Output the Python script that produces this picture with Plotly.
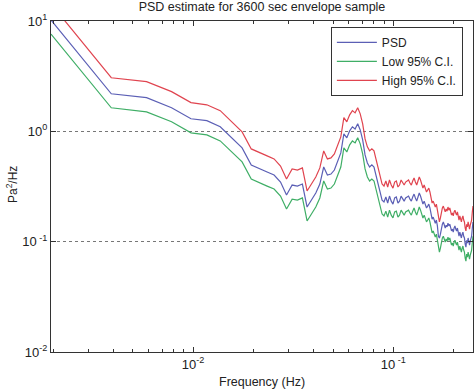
import numpy as np
import plotly.graph_objects as go

# frequency bins (Hz): k/512, k = 1..128
freq = np.arange(1, 129) / 512.0

psd = [10.2, 2.19, 2.02, 1.635, 1.30, 1.25, 1.10, 0.873, 0.708, 0.496,
       0.456, 0.428, 0.402, 0.347, 0.265, 0.326, 0.319, 0.333, 0.206, 0.238,
       0.276, 0.333, 0.475, 0.402, 0.410, 0.446, 0.539, 0.637, 0.949, 0.873,
       1.01, 1.10, 1.05, 1.17, 1.03, 0.837, 0.611, 0.517, 0.475, 0.496,
       0.475, 0.402, 0.326, 0.276, 0.238, 0.229, 0.254, 0.224, 0.259, 0.233,
       0.219, 0.249, 0.254, 0.224, 0.233, 0.259, 0.243, 0.233, 0.249, 0.254,
       0.259, 0.243, 0.233, 0.254, 0.270, 0.249, 0.233, 0.254, 0.276, 0.259,
       0.233, 0.219, 0.233, 0.215, 0.202, 0.210, 0.219, 0.202, 0.178, 0.160,
       0.167, 0.154, 0.147, 0.157, 0.139, 0.112, 0.108, 0.117, 0.133, 0.144,
       0.151, 0.141, 0.133, 0.141, 0.136, 0.147, 0.139, 0.144, 0.136, 0.125,
       0.130, 0.122, 0.133, 0.139, 0.130, 0.125, 0.133, 0.120, 0.112, 0.122,
       0.115, 0.108, 0.117, 0.122, 0.112, 0.108, 0.0951, 0.0893, 0.103, 0.0971,
       0.108, 0.0992, 0.0931, 0.101, 0.108, 0.112, 0.133, 0.151]

low_ci = [7.62, 1.635, 1.50, 1.22, 0.969, 0.929, 0.819, 0.651, 0.528, 0.370,
          0.340, 0.319, 0.300, 0.259, 0.198, 0.243, 0.238, 0.249, 0.154, 0.178,
          0.206, 0.249, 0.355, 0.300, 0.306, 0.333, 0.402, 0.475, 0.708, 0.651,
          0.754, 0.819, 0.786, 0.873, 0.770, 0.624, 0.456, 0.386, 0.355, 0.370,
          0.355, 0.300, 0.243, 0.206, 0.178, 0.171, 0.189, 0.167, 0.193, 0.174,
          0.164, 0.186, 0.189, 0.167, 0.174, 0.193, 0.182, 0.174, 0.186, 0.189,
          0.193, 0.182, 0.174, 0.189, 0.202, 0.186, 0.174, 0.189, 0.206, 0.193,
          0.174, 0.164, 0.174, 0.160, 0.151, 0.157, 0.164, 0.151, 0.133, 0.120,
          0.125, 0.115, 0.110, 0.117, 0.103, 0.0839, 0.0804, 0.0875, 0.0992, 0.108,
          0.112, 0.106, 0.0992, 0.106, 0.101, 0.110, 0.103, 0.108, 0.101, 0.0931,
          0.0971, 0.0912, 0.0992, 0.103, 0.0971, 0.0931, 0.0992, 0.0893, 0.0839, 0.0912,
          0.0857, 0.0804, 0.0875, 0.0912, 0.0839, 0.0804, 0.0710, 0.0667, 0.0772, 0.0725,
          0.0804, 0.0740, 0.0695, 0.0756, 0.0804, 0.0839, 0.0992, 0.112]

high_ci = [14.3, 3.06, 2.82, 2.29, 1.82, 1.74, 1.54, 1.22, 0.989, 0.693,
           0.637, 0.599, 0.562, 0.485, 0.370, 0.456, 0.446, 0.466, 0.288, 0.333,
           0.386, 0.466, 0.665, 0.562, 0.574, 0.624, 0.754, 0.891, 1.33, 1.22,
           1.41, 1.54, 1.47, 1.635, 1.44, 1.17, 0.854, 0.723, 0.665, 0.693,
           0.665, 0.562, 0.456, 0.386, 0.333, 0.319, 0.355, 0.313, 0.362, 0.326,
           0.306, 0.347, 0.355, 0.313, 0.326, 0.362, 0.340, 0.326, 0.347, 0.355,
           0.362, 0.340, 0.326, 0.355, 0.378, 0.347, 0.326, 0.355, 0.386, 0.362,
           0.326, 0.306, 0.326, 0.300, 0.282, 0.294, 0.306, 0.282, 0.249, 0.224,
           0.233, 0.215, 0.206, 0.219, 0.193, 0.157, 0.151, 0.164, 0.186, 0.202,
           0.210, 0.198, 0.186, 0.198, 0.189, 0.206, 0.193, 0.202, 0.189, 0.174,
           0.182, 0.171, 0.186, 0.193, 0.182, 0.174, 0.186, 0.167, 0.157, 0.171,
           0.160, 0.151, 0.164, 0.171, 0.157, 0.151, 0.133, 0.125, 0.144, 0.136,
           0.151, 0.139, 0.130, 0.141, 0.151, 0.157, 0.186, 0.210]

names = ["PSD", "Low 95% C.I.", "High 95% C.I."]
colors = ["#5b5fb5", "#3fae66", "#e0444f"]

xtick_vals = [0.01, 0.1]
xtick_text = ["10<sup>-2</sup>", "10<sup> -1</sup>"]
xminor_vals = [m * d for d in (0.001, 0.01, 0.1) for m in range(2, 10)]
ytick_vals = [0.01, 0.1, 1, 10]
ytick_text = ["10<sup>-2</sup>", "10<sup> -1</sup>", "10<sup>0</sup>", "10<sup>1</sup>"]

FONT = "Liberation Sans, Arial, Helvetica, sans-serif"

fig = go.Figure()
for y, n, c in zip([psd, low_ci, high_ci], names, colors):
    fig.add_trace(go.Scatter(x=freq, y=y, mode="lines", name=n,
                             line=dict(color=c, width=1.2)))

axis_common = dict(showline=True, linecolor="#333333", linewidth=1, mirror="ticks",
                   ticks="inside", ticklen=5, tickcolor="#333333",
                   tickfont=dict(family=FONT, size=13, color="#222222"),
                   zeroline=False)

fig.update_xaxes(type="log", range=[np.log10(1 / 512), np.log10(0.25)],
                 tickmode="array", tickvals=xtick_vals, ticktext=xtick_text,
                 showgrid=False,
                 minor=dict(tickmode="array", tickvals=xminor_vals, ticks="inside",
                            ticklen=3, tickcolor="#333333", showgrid=False),
                 **axis_common)
fig.update_yaxes(type="log", range=[-2, 1],
                 tickmode="array", tickvals=ytick_vals, ticktext=ytick_text,
                 showgrid=True, gridcolor="#777777", griddash="dot", gridwidth=1,
                 **axis_common)

fig.update_layout(
    width=474, height=391,
    margin=dict(l=51, r=1, t=21, b=39),
    paper_bgcolor="white", plot_bgcolor="white",
    font=dict(family=FONT, size=12, color="#222222"),
    title=dict(text="PSD estimate for 3600 sec envelope sample",
               x=0.5, xref="paper", y=1 - 7 / 391, yref="container",
               yanchor="middle", xanchor="center",
               font=dict(family=FONT, size=12.5, color="#222222")),
    showlegend=True,
    legend=dict(x=0.976, y=0.982, xanchor="right", yanchor="top",
                bgcolor="white", bordercolor="#333333", borderwidth=1,
                font=dict(family=FONT, size=12, color="#222222"),
                itemwidth=40, tracegroupgap=0),
    annotations=[
        dict(text="Pa<sup>2</sup>/Hz", xref="paper", yref="paper",
             x=-0.092, y=0.505, textangle=-90, showarrow=False,
             xanchor="center", yanchor="middle",
             font=dict(family=FONT, size=12, color="#222222")),
        dict(text="Frequency (Hz)", xref="paper", yref="paper",
             x=0.5, y=-0.09, showarrow=False, xanchor="center", yanchor="middle",
             font=dict(family=FONT, size=12.5, color="#222222")),
    ],
)

fig.write_html("out.html", config={"displayModeBar": False},
               post_script="document.body.style.margin='0';document.body.style.overflow='hidden';")
